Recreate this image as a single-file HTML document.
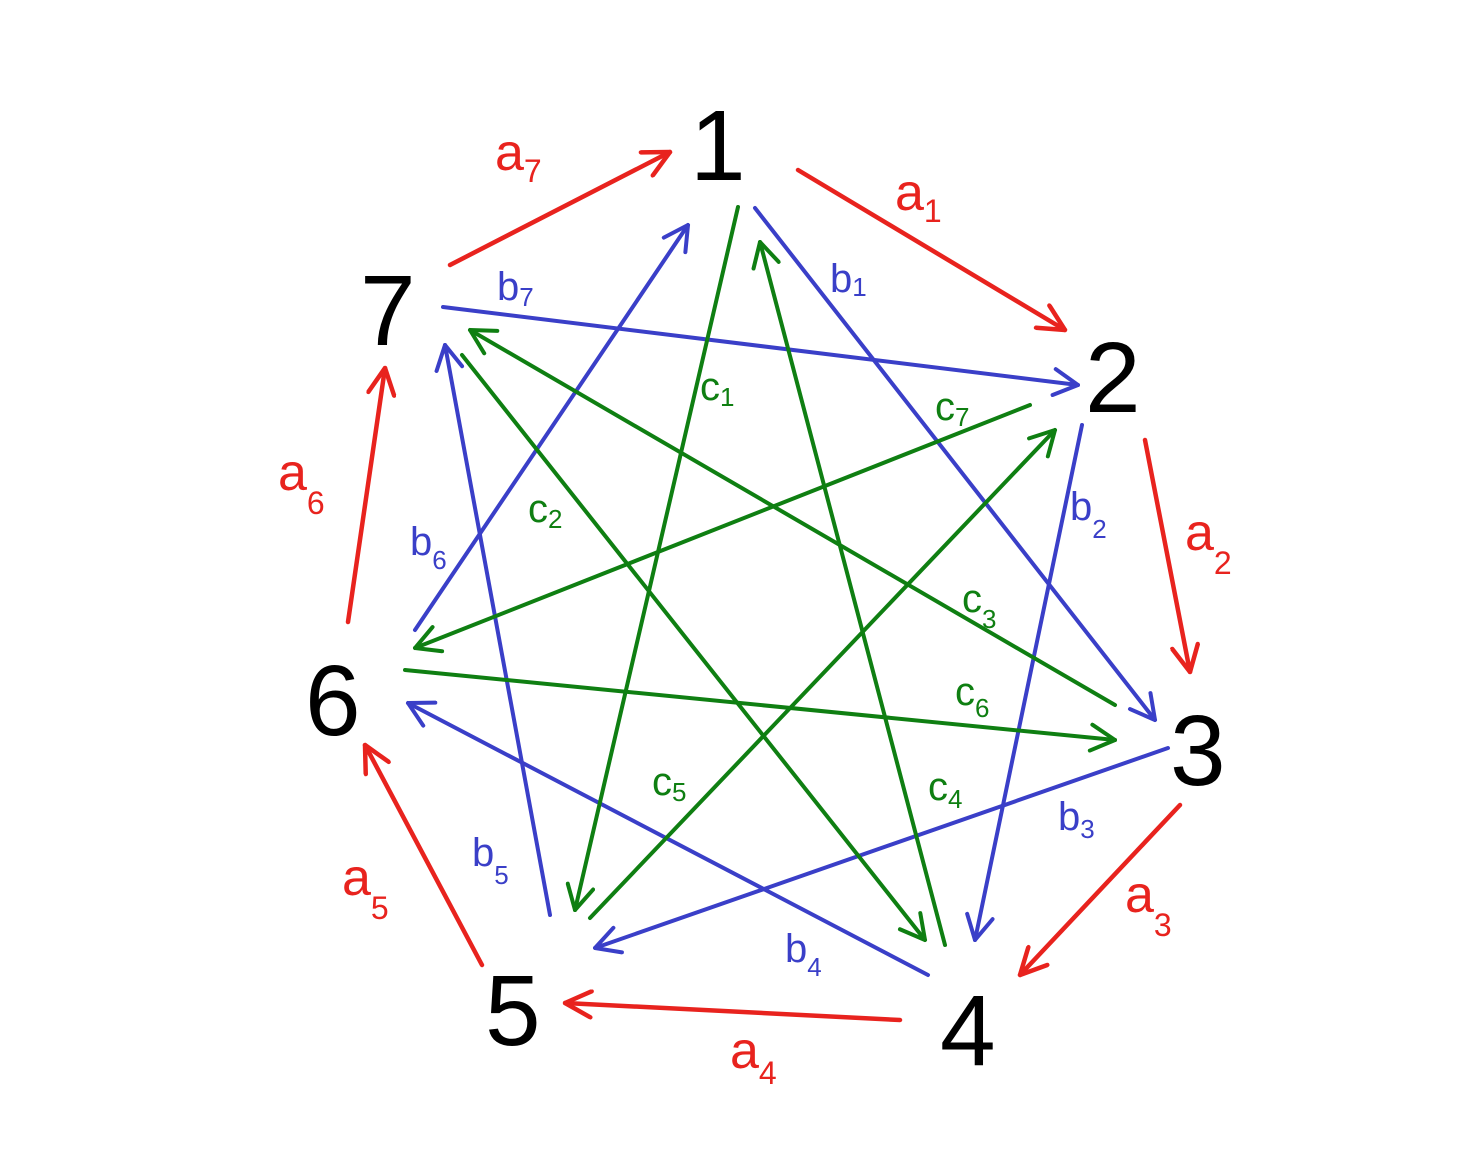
<!DOCTYPE html>
<html><head><meta charset="utf-8"><style>html,body{margin:0;padding:0;background:#fff}svg{display:block}</style></head>
<body>
<svg width="1483" height="1176" viewBox="0 0 1483 1176" xmlns="http://www.w3.org/2000/svg" font-family="Liberation Sans, sans-serif">
<defs>
<marker id="r" viewBox="-30 -15 32 30" refX="0" refY="0" markerWidth="32" markerHeight="30" markerUnits="userSpaceOnUse" orient="auto"><path d="M-26,-13 L0,0 L-26,13" fill="none" stroke="#e8231e" stroke-width="4.5" stroke-linecap="round" stroke-linejoin="round"/></marker>
<marker id="b" viewBox="-30 -15 32 30" refX="0" refY="0" markerWidth="32" markerHeight="30" markerUnits="userSpaceOnUse" orient="auto"><path d="M-24,-13 L0,0 L-24,13" fill="none" stroke="#3a3fc8" stroke-width="4" stroke-linecap="round" stroke-linejoin="round"/></marker>
<marker id="g" viewBox="-30 -15 32 30" refX="0" refY="0" markerWidth="32" markerHeight="30" markerUnits="userSpaceOnUse" orient="auto"><path d="M-24,-13 L0,0 L-24,13" fill="none" stroke="#0f7f12" stroke-width="4" stroke-linecap="round" stroke-linejoin="round"/></marker>
</defs>
<g stroke-width="4" stroke-linecap="round" fill="none">
<g stroke="#e8231e" stroke-width="4.5" marker-end="url(#r)">
<line x1="450" y1="265" x2="670" y2="152"/>
<line x1="798" y1="170" x2="1065" y2="330"/>
<line x1="1145" y1="440" x2="1190" y2="672"/>
<line x1="1180" y1="805" x2="1020" y2="975"/>
<line x1="900" y1="1020" x2="565" y2="1003"/>
<line x1="482" y1="965" x2="365" y2="745"/>
<line x1="348" y1="622" x2="385" y2="368"/>
</g>
<g stroke="#3a3fc8" marker-end="url(#b)">
<line x1="755" y1="208" x2="1155" y2="720"/>
<line x1="1082" y1="425" x2="975" y2="940"/>
<line x1="1168" y1="748" x2="595" y2="948"/>
<line x1="928" y1="975" x2="408" y2="703"/>
<line x1="550" y1="915" x2="445" y2="345"/>
<line x1="415" y1="630" x2="688" y2="225"/>
<line x1="443" y1="307" x2="1078" y2="385"/>
</g>
<g stroke="#0f7f12" marker-end="url(#g)">
<line x1="738" y1="207" x2="575" y2="910"/>
<line x1="462" y1="355" x2="925" y2="940"/>
<line x1="1115" y1="705" x2="470" y2="330"/>
<line x1="945" y1="945" x2="760" y2="242"/>
<line x1="590" y1="918" x2="1055" y2="430"/>
<line x1="405" y1="670" x2="1115" y2="740"/>
<line x1="1030" y1="405" x2="415" y2="648"/>
</g>
</g>
<g fill="#000" font-size="100">
<text x="690" y="180">1</text>
<text x="1085" y="412">2</text>
<text x="1170" y="785">3</text>
<text x="940" y="1065">4</text>
<text x="485" y="1045">5</text>
<text x="305" y="735">6</text>
<text x="360" y="345">7</text>
</g>
<g fill="#e8231e" font-size="52">
<text x="495" y="170">a<tspan font-size="32" dy="12">7</tspan></text>
<text x="895" y="210">a<tspan font-size="32" dy="12">1</tspan></text>
<text x="1185" y="550">a<tspan font-size="32" dy="24">2</tspan></text>
<text x="1125" y="912">a<tspan font-size="32" dy="24">3</tspan></text>
<text x="730" y="1068">a<tspan font-size="32" dy="16">4</tspan></text>
<text x="342" y="895">a<tspan font-size="32" dy="24">5</tspan></text>
<text x="278" y="490">a<tspan font-size="32" dy="24">6</tspan></text>
</g>
<g fill="#3a3fc8" font-size="40">
<text x="830" y="292">b<tspan font-size="26" dy="4">1</tspan></text>
<text x="1070" y="520">b<tspan font-size="26" dy="18">2</tspan></text>
<text x="1058" y="830">b<tspan font-size="26" dy="8">3</tspan></text>
<text x="785" y="962">b<tspan font-size="26" dy="14">4</tspan></text>
<text x="472" y="866">b<tspan font-size="26" dy="18">5</tspan></text>
<text x="410" y="555">b<tspan font-size="26" dy="14">6</tspan></text>
<text x="497" y="300">b<tspan font-size="26" dy="6">7</tspan></text>
</g>
<g fill="#0f7f12" font-size="40">
<text x="700" y="400">c<tspan font-size="26" dy="6">1</tspan></text>
<text x="528" y="522">c<tspan font-size="26" dy="6">2</tspan></text>
<text x="962" y="612">c<tspan font-size="26" dy="16">3</tspan></text>
<text x="928" y="800">c<tspan font-size="26" dy="8">4</tspan></text>
<text x="652" y="795">c<tspan font-size="26" dy="6">5</tspan></text>
<text x="955" y="705">c<tspan font-size="26" dy="12">6</tspan></text>
<text x="935" y="420">c<tspan font-size="26" dy="6">7</tspan></text>
</g>
</svg>
</body></html>
